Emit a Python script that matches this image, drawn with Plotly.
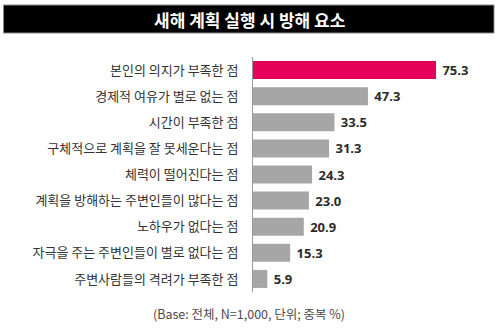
import plotly.graph_objects as go

# Survey: obstacles to carrying out New Year plans (multiple response, %)
categories = [
    "본인의 의지가 부족한 점",
    "경제적 여유가 별로 없는 점",
    "시간이 부족한 점",
    "구체적으로 계획을 잘 못세운다는 점",
    "체력이 떨어진다는 점",
    "계획을 방해하는 주변인들이 많다는 점",
    "노하우가 없다는 점",
    "자극을 주는 주변인들이 별로 없다는 점",
    "주변사람들의 격려가 부족한 점",
]
values = [75.3, 47.3, 33.5, 31.3, 24.3, 23.0, 20.9, 15.3, 5.9]

title_text = "새해 계획 실행 시 방해 요소"
footnote_text = "(Base: 전체, N=1,000, 단위; 중복 %)"

W, H = 500, 334
ML, MR, MT, MB = 253, 10, 57, 42

highlight = "#E5005A"
base_gray = "#A6A6A6"
colors = [highlight] + [base_gray] * (len(values) - 1)

kr_font = "Noto Sans CJK KR"


def px_x(p):
    return (p - ML) / (W - ML - MR)


def px_y(p):
    return 1 - (p - MT) / (H - MT - MB)


fig = go.Figure(
    go.Bar(
        x=values,
        y=categories,
        orientation="h",
        marker=dict(color=colors, line=dict(width=0)),
        width=0.69,
        text=values,
        texttemplate="\u00a0%{x:.1f}",
        textposition="outside",
        cliponaxis=False,
        textfont=dict(family="Open Sans", size=13, color="#2b2b2b", weight="bold"),
        hoverinfo="skip",
    )
)

fig.update_layout(
    width=W,
    height=H,
    margin=dict(l=ML, r=MR, t=MT, b=MB),
    paper_bgcolor="white",
    plot_bgcolor="white",
    showlegend=False,
    xaxis=dict(
        range=[0, 97.5],
        visible=False,
        fixedrange=True,
    ),
    yaxis=dict(
        autorange="reversed",
        showline=True,
        linecolor="#9a9a9a",
        linewidth=1,
        ticks="",
        ticklabelstandoff=11,
        tickfont=dict(family=kr_font, size=13, color="#333333"),
        showgrid=False,
        zeroline=False,
        fixedrange=True,
    ),
    shapes=[
        dict(
            type="rect",
            xref="paper",
            yref="paper",
            x0=px_x(3.5),
            x1=px_x(494),
            y0=px_y(5),
            y1=px_y(33),
            fillcolor="black",
            line=dict(color="#8a8a8a", width=1),
            layer="above",
        )
    ],
    annotations=[
        dict(
            text=title_text,
            xref="paper",
            yref="paper",
            x=px_x(249),
            y=px_y(19),
            xanchor="center",
            yanchor="middle",
            showarrow=False,
            font=dict(family=kr_font, size=17, color="white", weight="bold"),
        ),
        dict(
            text=footnote_text,
            xref="paper",
            yref="paper",
            x=px_x(249),
            y=px_y(313),
            xanchor="center",
            yanchor="middle",
            showarrow=False,
            font=dict(family=kr_font, size=12.5, color="#4a4a4a"),
        ),
    ],
)

fig.write_html("out.html")
